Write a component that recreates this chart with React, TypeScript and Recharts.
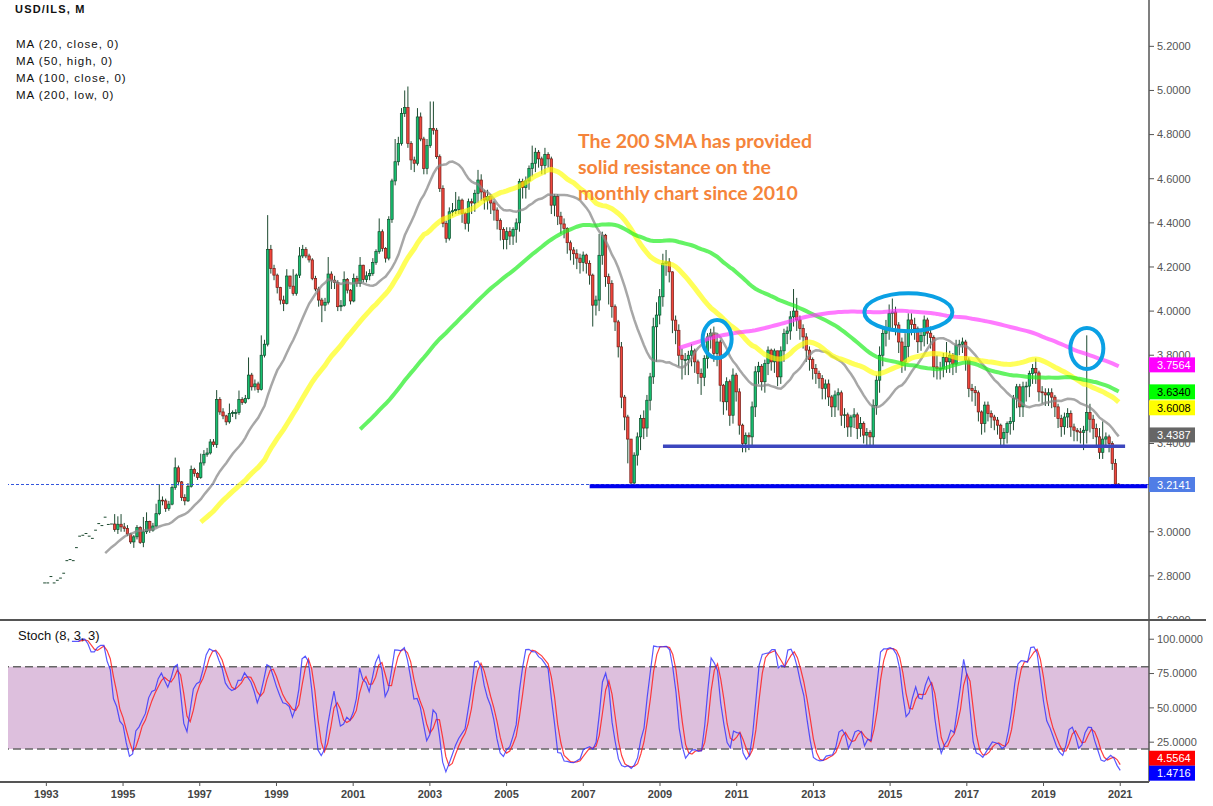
import { Bar, ComposedChart, Line, ReferenceArea, ReferenceDot, ReferenceLine, XAxis, YAxis } from "recharts";

// USD/ILS monthly candles, Dec 1992 .. Jan 2021 (month index 0 = Jan 1993)
const firstMonth = -1;

const closes = [
  2.768,
  2.768, 2.797, 2.768, 2.78, 2.79, 2.812, 2.869, 2.874, 2.869, 2.928, 2.98, 2.984,
  2.992, 2.98, 2.97, 3.007, 3.037, 3.028, 3.066, 3.033, 3.035, 3.01, 3.034, 3.022,
  3.015, 2.99, 2.954, 2.977, 3.019, 2.951, 3.0, 3.047, 3.007, 3.026, 3.082, 3.143,
  3.14, 3.105, 3.125, 3.2, 3.29, 3.226, 3.155, 3.14, 3.206, 3.282, 3.264, 3.246,
  3.312, 3.351, 3.357, 3.407, 3.395, 3.6, 3.543, 3.525, 3.498, 3.536, 3.54, 3.54,
  3.6, 3.586, 3.604, 3.71, 3.657, 3.67, 3.645, 3.8, 3.85, 4.28, 4.193, 4.163,
  4.107, 4.05, 4.035, 4.159, 4.113, 4.08, 4.163, 4.25, 4.28, 4.25, 4.232, 4.148,
  4.1, 4.05, 4.027, 4.04, 4.168, 4.14, 4.13, 4.02, 4.025, 4.143, 4.095, 4.046,
  4.148, 4.125, 4.208, 4.143, 4.16, 4.17, 4.22, 4.27, 4.36, 4.284, 4.24, 4.416,
  4.59, 4.677, 4.76, 4.896, 4.923, 4.76, 4.685, 4.67, 4.88, 4.78, 4.647, 4.75,
  4.828, 4.82, 4.7, 4.556, 4.398, 4.33, 4.45, 4.455, 4.46, 4.503, 4.443, 4.398,
  4.496, 4.49, 4.534, 4.594, 4.54, 4.503, 4.52, 4.49, 4.458, 4.41, 4.37, 4.325,
  4.36, 4.34, 4.37, 4.4, 4.587, 4.56, 4.59, 4.647, 4.67, 4.72, 4.69, 4.66,
  4.71, 4.69, 4.48, 4.52, 4.43, 4.395, 4.375, 4.31, 4.277, 4.26, 4.24, 4.22,
  4.254, 4.216, 4.163, 4.027, 4.05, 4.253, 4.344, 4.156, 4.125, 4.02, 3.951, 3.838,
  3.61, 3.52, 3.42, 3.221, 3.347, 3.43, 3.513, 3.47, 3.596, 3.702, 3.929, 3.982,
  4.065, 4.216, 4.223, 4.178, 3.959, 3.913, 3.8, 3.78, 3.78, 3.8, 3.82, 3.77,
  3.717, 3.7, 3.785, 3.883, 3.9, 3.808, 3.86, 3.664, 3.589, 3.68, 3.528, 3.71,
  3.634, 3.483, 3.4, 3.437, 3.43, 3.566, 3.725, 3.75, 3.68, 3.762, 3.823, 3.77,
  3.82, 3.702, 3.82, 3.898, 3.91, 3.974, 4.0, 3.96, 3.921, 3.883, 3.823, 3.78,
  3.74, 3.717, 3.695, 3.65, 3.67, 3.611, 3.566, 3.62, 3.63, 3.528, 3.53, 3.475,
  3.52, 3.53, 3.468, 3.49, 3.438, 3.45, 3.43, 3.573, 3.687, 3.8, 3.899, 3.92,
  3.99, 3.996, 3.937, 3.86, 3.77, 3.84, 3.96, 3.94, 3.92, 3.861, 3.89, 3.96,
  3.9, 3.88, 3.747, 3.74, 3.74, 3.79, 3.77, 3.8, 3.76, 3.845, 3.85, 3.86,
  3.778, 3.65, 3.64, 3.63, 3.543, 3.49, 3.574, 3.536, 3.52, 3.506, 3.483, 3.422,
  3.45, 3.49, 3.5, 3.604, 3.657, 3.566, 3.657, 3.66, 3.717, 3.74, 3.72, 3.634,
  3.63, 3.62, 3.63, 3.61, 3.566, 3.513, 3.476, 3.52, 3.536, 3.475, 3.46, 3.453,
  3.45, 3.46, 3.54, 3.51, 3.468, 3.43, 3.36, 3.42, 3.43, 3.4, 3.31, 3.216,
  3.2141,
];

const highs = [
  2.768,
  2.768, 2.797, 2.768, 2.78, 2.79, 2.812, 2.869, 2.874, 2.869, 2.928, 2.98, 2.984,
  2.992, 2.98, 2.97, 3.007, 3.037, 3.028, 3.066, 3.033, 3.035, 3.08, 3.07, 3.08,
  3.04, 3.03, 2.995, 2.985, 3.03, 3.025, 3.067, 3.088, 3.05, 3.04, 3.127, 3.215,
  3.16, 3.15, 3.14, 3.21, 3.336, 3.3, 3.23, 3.17, 3.22, 3.3, 3.29, 3.27,
  3.354, 3.37, 3.38, 3.42, 3.42, 3.642, 3.61, 3.56, 3.53, 3.581, 3.55, 3.555,
  3.64, 3.61, 3.62, 3.79, 3.72, 3.69, 3.68, 3.89, 3.87, 4.435, 4.3, 4.21,
  4.17, 4.11, 4.07, 4.19, 4.16, 4.19, 4.17, 4.29, 4.3, 4.29, 4.26, 4.24,
  4.16, 4.11, 4.06, 4.06, 4.245, 4.18, 4.16, 4.14, 4.05, 4.18, 4.15, 4.1,
  4.17, 4.16, 4.245, 4.21, 4.18, 4.19, 4.24, 4.28, 4.42, 4.37, 4.29, 4.43,
  4.6, 4.78, 4.79, 4.92, 5.0, 5.018, 4.77, 4.7, 4.92, 4.9, 4.79, 4.78,
  4.95, 4.95, 4.83, 4.71, 4.57, 4.41, 4.47, 4.49, 4.54, 4.52, 4.51, 4.45,
  4.51, 4.51, 4.55, 4.64, 4.62, 4.55, 4.55, 4.53, 4.5, 4.47, 4.42, 4.38,
  4.38, 4.38, 4.38, 4.42, 4.6, 4.6, 4.61, 4.66, 4.75, 4.74, 4.73, 4.7,
  4.74, 4.72, 4.7, 4.53, 4.53, 4.45, 4.42, 4.38, 4.32, 4.29, 4.28, 4.26,
  4.27, 4.26, 4.23, 4.17, 4.07, 4.35, 4.36, 4.35, 4.17, 4.14, 4.03, 3.96,
  3.86, 3.62, 3.53, 3.42, 3.36, 3.45, 3.53, 3.55, 3.62, 3.72, 3.97, 4.04,
  4.1, 4.26, 4.277, 4.24, 4.18, 3.98, 3.94, 3.83, 3.81, 3.82, 3.85, 3.83,
  3.78, 3.74, 3.8, 3.9, 3.92, 3.93, 3.9, 3.87, 3.67, 3.7, 3.69, 3.74,
  3.72, 3.65, 3.49, 3.45, 3.45, 3.59, 3.75, 3.77, 3.76, 3.78, 3.84, 3.83,
  3.83, 3.82, 3.84, 3.92, 3.93, 4.0, 4.1, 4.06, 3.98, 3.94, 3.9, 3.84,
  3.79, 3.76, 3.73, 3.71, 3.69, 3.69, 3.62, 3.64, 3.65, 3.64, 3.56, 3.54,
  3.53, 3.56, 3.54, 3.52, 3.5, 3.47, 3.46, 3.6, 3.71, 3.84, 3.93, 3.96,
  4.03, 4.057, 4.02, 3.95, 3.88, 3.9, 3.99, 3.99, 3.97, 3.93, 3.92, 3.98,
  3.97, 3.93, 3.89, 3.8, 3.77, 3.81, 3.86, 3.82, 3.81, 3.87, 3.87, 3.88,
  3.87, 3.79, 3.67, 3.66, 3.64, 3.55, 3.59, 3.59, 3.55, 3.53, 3.52, 3.49,
  3.47, 3.5, 3.52, 3.62, 3.67, 3.67, 3.68, 3.68, 3.73, 3.76, 3.786, 3.73,
  3.66, 3.65, 3.65, 3.65, 3.62, 3.58, 3.53, 3.54, 3.56, 3.55, 3.49, 3.47,
  3.47, 3.48, 3.89, 3.58, 3.53, 3.49, 3.47, 3.5, 3.45, 3.44, 3.41, 3.33,
  3.22,
];

const lows = [
  2.768,
  2.768, 2.797, 2.768, 2.78, 2.79, 2.812, 2.869, 2.874, 2.869, 2.928, 2.98, 2.984,
  2.992, 2.98, 2.97, 3.007, 3.037, 3.028, 3.066, 3.033, 3.035, 3.0, 2.99, 3.0,
  3.0, 2.98, 2.945, 2.927, 2.965, 2.945, 2.93, 2.99, 2.995, 3.0, 3.02, 3.075,
  3.12, 3.09, 3.095, 3.12, 3.19, 3.21, 3.14, 3.12, 3.135, 3.2, 3.25, 3.235,
  3.24, 3.3, 3.34, 3.35, 3.385, 3.38, 3.53, 3.51, 3.483, 3.49, 3.52, 3.51,
  3.53, 3.575, 3.58, 3.6, 3.64, 3.64, 3.63, 3.64, 3.79, 3.84, 4.17, 4.14,
  4.08, 4.03, 4.0, 4.03, 4.1, 4.07, 4.07, 4.15, 4.24, 4.24, 4.22, 4.14,
  4.09, 4.02, 3.95, 4.0, 4.03, 4.1, 4.1, 4.0, 4.0, 4.02, 4.08, 4.03,
  4.04, 4.11, 4.11, 4.13, 4.13, 4.14, 4.16, 4.21, 4.26, 4.27, 4.22, 4.23,
  4.4, 4.57, 4.66, 4.75, 4.88, 4.74, 4.64, 4.63, 4.66, 4.77, 4.62, 4.62,
  4.74, 4.8, 4.69, 4.54, 4.38, 4.31, 4.32, 4.43, 4.44, 4.44, 4.4, 4.37,
  4.36, 4.44, 4.45, 4.49, 4.5, 4.46, 4.46, 4.44, 4.41, 4.37, 4.32, 4.28,
  4.28, 4.3, 4.3, 4.31, 4.36, 4.51, 4.51, 4.55, 4.61, 4.63, 4.65, 4.62,
  4.62, 4.65, 4.44, 4.43, 4.39, 4.35, 4.33, 4.26, 4.23, 4.21, 4.19, 4.17,
  4.18, 4.17, 4.12, 3.93, 3.98, 4.0, 4.21, 4.11, 4.03, 3.97, 3.91, 3.79,
  3.56, 3.46, 3.31, 3.215, 3.215, 3.3, 3.37, 3.42, 3.43, 3.55, 3.67, 3.77,
  3.94, 4.02, 4.16, 4.13, 3.9, 3.85, 3.75, 3.69, 3.71, 3.71, 3.75, 3.72,
  3.67, 3.62, 3.66, 3.74, 3.83, 3.77, 3.75, 3.59, 3.53, 3.55, 3.48, 3.49,
  3.59, 3.44, 3.36, 3.36, 3.37, 3.39, 3.52, 3.67, 3.64, 3.63, 3.71, 3.73,
  3.72, 3.66, 3.67, 3.77, 3.85, 3.87, 3.93, 3.91, 3.87, 3.83, 3.77, 3.73,
  3.69, 3.67, 3.65, 3.6, 3.6, 3.57, 3.52, 3.52, 3.55, 3.48, 3.47, 3.43,
  3.43, 3.47, 3.42, 3.43, 3.4, 3.39, 3.38, 3.39, 3.53, 3.63, 3.75, 3.84,
  3.87, 3.92, 3.89, 3.81, 3.72, 3.73, 3.79, 3.89, 3.87, 3.81, 3.82, 3.84,
  3.85, 3.83, 3.7, 3.69, 3.69, 3.7, 3.72, 3.72, 3.71, 3.72, 3.8, 3.81,
  3.73, 3.61, 3.59, 3.57, 3.5, 3.44, 3.45, 3.5, 3.47, 3.46, 3.44, 3.39,
  3.38, 3.4, 3.44, 3.46, 3.56, 3.52, 3.52, 3.59, 3.61, 3.67, 3.67, 3.59,
  3.58, 3.57, 3.57, 3.56, 3.52, 3.47, 3.43, 3.44, 3.47, 3.43, 3.41, 3.41,
  3.4, 3.37, 3.4, 3.45, 3.42, 3.39, 3.33, 3.33, 3.38, 3.36, 3.28, 3.21,
  3.21,
];

const yearLabels = [1993, 1995, 1997, 1999, 2001, 2003, 2005, 2007, 2009, 2011, 2013, 2015, 2017, 2019, 2021];
// 3.2000 and 3.6000 sit fully under the value tags in the reference, so they are not labelled
const priceTicks = [2.6, 2.8, 3.0, 3.4, 3.8, 4.0, 4.2, 4.4, 4.6, 4.8, 5.0, 5.2];
const stochTicks = [25, 50, 75, 100];

// last values shown in the axis tags
const lastMa200 = 3.7564;
const lastMa100 = 3.634;
const lastMa50 = 3.6008;
const lastMa20 = 3.4387;
const lastPrice = 3.2141;
const lastStochD = 4.5564;
const lastStochK = 1.4716;

// drawn annotations: support levels and circled touches of the 200 SMA
const supportUpper = { level: 3.388, from: 193, to: 338 };
const supportLower = { level: 3.206, from: 170, to: 345 };
const circles = [
  { m: 210, price: 3.873, rx: 14.5, ry: 19 },
  { m: 270, price: 3.995, rx: 44, ry: 19 },
  { m: 326, price: 3.83, rx: 16.5, ry: 20.5 },
];

const axisFont = "'Liberation Sans', Arial, sans-serif";
const axisGray = "#555";
const priceDomain: [number, number] = [2.6, 5.41];
const stochDomain: [number, number] = [-4, 114];

const sma = (src: (number | null)[], n: number) =>
  src.map((_, i) => {
    if (i < n - 1) return null;
    const win = src.slice(i - n + 1, i + 1);
    if (win.some((v) => v == null)) return null;
    return (win as number[]).reduce((a, b) => a + b, 0) / n;
  });

const opens = closes.map((c, i) => (i === 0 || highs[i] === lows[i] ? c : closes[i - 1]));
const ma20 = sma(closes, 20);
const ma50 = sma(highs, 50);
const ma100 = sma(closes, 100);
const ma200 = sma(lows, 200);

const fastK = closes.map((c, i) => {
  if (i < 7) return null;
  const hh = Math.max(...highs.slice(i - 7, i + 1));
  const ll = Math.min(...lows.slice(i - 7, i + 1));
  return hh === ll ? 50 : (100 * (c - ll)) / (hh - ll);
});
const stochK = sma(fastK, 3);
const stochD = sma(stochK, 3);

const mFrom = -12;
const mTo = 345;
const rows: any[] = [];
for (let m = mFrom; m <= mTo; m++) {
  const i = m - firstMonth;
  if (i >= 0 && i < closes.length) {
    const o = opens[i];
    const c = closes[i];
    const h = Math.max(highs[i], o, c);
    const l = Math.min(lows[i], o, c);
    rows.push({
      m, o, h, l, c,
      range: [l, h],
      ma20: ma20[i], ma50: ma50[i], ma100: ma100[i], ma200: ma200[i],
      k: stochK[i], d: stochD[i],
    });
  } else {
    rows.push({ m });
  }
}

const yearTicks = yearLabels.map((y) => (y - 1993) * 12);

const Candle = (props: any) => {
  const { x, y, width, height, payload } = props;
  if (!payload || payload.c == null) return null;
  const { o, h, l, c } = payload;
  const cx = x + width / 2;
  if (h === l || !height) {
    return <line x1={cx - 1.4} x2={cx + 1.4} y1={y} y2={y} stroke="#1d4a30" strokeWidth={1} />;
  }
  const toY = (v: number) => y + ((h - v) / (h - l)) * height;
  const up = c >= o;
  const top = toY(Math.max(o, c));
  const bot = toY(Math.min(o, c));
  return (
    <g>
      <line x1={cx} x2={cx} y1={y} y2={y + height} stroke="#1d4a30" strokeWidth={1} />
      <rect
        x={cx - 1.2}
        y={top}
        width={2.4}
        height={Math.max(bot - top, 0.8)}
        fill={up ? "#17c070" : "#f0463c"}
        stroke={up ? "#0f4d2c" : "#701c16"}
        strokeWidth={0.7}
      />
    </g>
  );
};

const Tag = ({ viewBox, text, fill, color, dy = 0 }: any) => {
  if (!viewBox) return null;
  const x = viewBox.x + viewBox.width;
  const y = viewBox.y + dy;
  return (
    <g>
      <rect x={x} y={y - 7.5} width={46} height={15} fill={fill} />
      <text x={x + 8} y={y + 4} fontSize={11} fill={color} fontFamily={axisFont}>
        {text}
      </text>
    </g>
  );
};

const Ring = (props: any) => (
  <ellipse cx={props.cx} cy={props.cy} rx={props.rx} ry={props.ry} fill="none" stroke="#0aa0e4" strokeWidth={4} />
);

const fmt4 = (v: number) => v.toFixed(4);

const chartMargin = { top: 0, right: 0, bottom: 0, left: 8 };
const overlay: any = { position: "absolute", left: 0, pointerEvents: "none" };

export default function App() {
  return (
    <div style={{ position: "absolute", left: 0, top: 0, width: 1213, height: 806, background: "#fff", fontFamily: axisFont }}>
      {/* price panel */}
      <div style={{ position: "absolute", left: 0, top: 0 }}>
        <ComposedChart width={1213} height={620} data={rows} margin={chartMargin} barCategoryGap={0}>
          <XAxis dataKey="m" type="category" hide />
          <YAxis
            orientation="right"
            width={64}
            domain={priceDomain}
            ticks={priceTicks}
            interval={0}
            tickFormatter={fmt4}
            tick={{ fontSize: 11, fill: axisGray, fontFamily: axisFont }}
            tickSize={5}
            tickMargin={3}
            axisLine={{ stroke: axisGray, strokeWidth: 1.5 }}
            tickLine={{ stroke: axisGray }}
            allowDataOverflow
          />
          <ReferenceLine y={lastPrice} stroke="#3355dd" strokeDasharray="3 2" strokeWidth={1} />
          <Bar dataKey="range" shape={<Candle />} isAnimationActive={false} />
          <Line dataKey="ma20" stroke="#8a8a8a" strokeOpacity={0.75} strokeWidth={2.5} dot={false} isAnimationActive={false} />
          <Line dataKey="ma50" stroke="#ffff00" strokeOpacity={0.65} strokeWidth={5} dot={false} isAnimationActive={false} />
          <Line dataKey="ma100" stroke="#22ee22" strokeOpacity={0.7} strokeWidth={4} dot={false} isAnimationActive={false} />
          <Line dataKey="ma200" stroke="#ff33ff" strokeOpacity={0.65} strokeWidth={4} dot={false} isAnimationActive={false} />
          <ReferenceLine
            segment={[{ x: supportUpper.from, y: supportUpper.level }, { x: supportUpper.to, y: supportUpper.level }]}
            stroke="#3c46be"
            strokeWidth={3.5}
          />
          <ReferenceLine
            segment={[{ x: supportLower.from, y: supportLower.level }, { x: supportLower.to, y: supportLower.level }]}
            stroke="#0000ee"
            strokeWidth={4}
          />
          {circles.map((r) => (
            <ReferenceDot key={r.m} x={r.m} y={r.price} r={1} shape={(p: any) => <Ring {...p} rx={r.rx} ry={r.ry} />} />
          ))}
        </ComposedChart>
      </div>

      {/* price-axis tags, drawn above the axis labels */}
      <div style={{ ...overlay, top: 0 }}>
        <ComposedChart width={1213} height={620} data={rows} margin={chartMargin}>
          <XAxis dataKey="m" type="category" hide />
          <YAxis orientation="right" width={64} domain={priceDomain} tick={false} tickLine={false} axisLine={false} allowDataOverflow />
          <ReferenceLine y={lastMa200} stroke="none" label={<Tag text={fmt4(lastMa200)} fill="#ff00ff" color="#fff" />} />
          <ReferenceLine y={lastMa100} stroke="none" label={<Tag text={fmt4(lastMa100)} fill="#00ff00" color="#000" />} />
          <ReferenceLine y={lastMa50} stroke="none" label={<Tag text={fmt4(lastMa50)} fill="#ffff00" color="#000" dy={8.6} />} />
          <ReferenceLine y={lastMa20} stroke="none" label={<Tag text={fmt4(lastMa20)} fill="#666666" color="#fff" />} />
          <ReferenceLine y={lastPrice} stroke="none" label={<Tag text={fmt4(lastPrice)} fill="#507de6" color="#fff" />} />
        </ComposedChart>
      </div>

      {/* stochastic panel */}
      <div style={{ position: "absolute", left: 0, top: 620 }}>
        <ComposedChart width={1213} height={186} data={rows} margin={chartMargin}>
          <XAxis
            dataKey="m"
            type="category"
            ticks={yearTicks}
            interval={0}
            tickFormatter={(m: number) => String(1993 + m / 12)}
            tick={{ fontSize: 11, fill: "#444", fontWeight: "bold", fontFamily: axisFont }}
            tickSize={4}
            tickMargin={4}
            height={24}
            axisLine={{ stroke: axisGray, strokeWidth: 2 }}
            tickLine={{ stroke: axisGray }}
          />
          <YAxis
            orientation="right"
            width={64}
            domain={stochDomain}
            ticks={stochTicks}
            interval={0}
            tickFormatter={fmt4}
            tick={{ fontSize: 11, fill: axisGray, fontFamily: axisFont }}
            tickSize={5}
            tickMargin={3}
            axisLine={{ stroke: axisGray, strokeWidth: 1.5 }}
            tickLine={{ stroke: axisGray }}
            allowDataOverflow
          />
          <ReferenceArea y1={20} y2={80} fill="#ddbfdd" fillOpacity={1} stroke="none" />
          <ReferenceLine y={80} stroke="#666" strokeDasharray="8 4" strokeWidth={1.5} />
          <ReferenceLine y={20} stroke="#666" strokeDasharray="8 4" strokeWidth={1.5} />
          <Line dataKey="d" stroke="#ff2020" strokeOpacity={0.85} strokeWidth={1.2} dot={false} isAnimationActive={false} />
          <Line dataKey="k" stroke="#3030ff" strokeOpacity={0.8} strokeWidth={1.2} dot={false} isAnimationActive={false} />
        </ComposedChart>
      </div>

      <div style={{ ...overlay, top: 620 }}>
        <ComposedChart width={1213} height={186} data={rows} margin={chartMargin}>
          <XAxis dataKey="m" type="category" height={24} tick={false} tickLine={false} axisLine={false} />
          <YAxis orientation="right" width={64} domain={stochDomain} tick={false} tickLine={false} axisLine={false} allowDataOverflow />
          <ReferenceLine y={lastStochD} stroke="none" label={<Tag text={fmt4(lastStochD)} fill="#ff0000" color="#fff" dy={-12} />} />
          <ReferenceLine y={lastStochK} stroke="none" label={<Tag text={fmt4(lastStochK)} fill="#0000ff" color="#fff" dy={-1.3} />} />
        </ComposedChart>
      </div>

      {/* panel frame lines */}
      <div style={{ position: "absolute", left: 0, top: 619, width: 1206, height: 2, background: axisGray }} />
      <div style={{ position: "absolute", left: 0, top: 781, width: 10, height: 2, background: axisGray }} />

      <div style={{ position: "absolute", left: 15, top: 3, fontSize: 11, fontWeight: "bold", letterSpacing: 1.2, color: "#111" }}>
        USD/ILS, M
      </div>
      <div style={{ position: "absolute", left: 16, top: 36, fontSize: 11.5, letterSpacing: 1, lineHeight: "17px", color: "#111" }}>
        <div>MA (20, close, 0)</div>
        <div>MA (50, high, 0)</div>
        <div>MA (100, close, 0)</div>
        <div>MA (200, low, 0)</div>
      </div>
      <div style={{ position: "absolute", left: 18, top: 628, fontSize: 13, color: "#111" }}>Stoch (8, 3, 3)</div>
      <div
        style={{
          position: "absolute",
          left: 578,
          top: 128,
          fontFamily: "Lato, 'Open Sans', sans-serif",
          fontWeight: 700,
          fontSize: 19.5,
          lineHeight: "26px",
          color: "#f5843a",
        }}
      >
        <div>The 200 SMA has provided</div>
        <div>solid resistance on the</div>
        <div>monthly chart since 2010</div>
      </div>
    </div>
  );
}
